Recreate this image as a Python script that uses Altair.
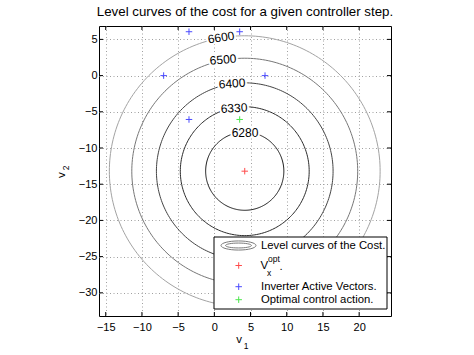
import altair as alt
import numpy as np
import pandas as pd

# ---------------- data ----------------
x_ticks = [-15, -10, -5, 0, 5, 10, 15, 20]
y_ticks = [-30, -25, -20, -15, -10, -5, 0, 5]
x_domain = [-15.93, 24.4]
y_domain = [-33.2, 6.85]

levels = [6280, 6330, 6400, 6500, 6600]
radii = [5.4, 8.9, 12.2, 15.6, 18.7]
level_colors = ["#1a1a1a", "#2a2a2a", "#444444", "#777777", "#a3a3a3"]
center_x = 4.2
center_y = -13.2
label_x = [4.24, 2.72, 2.44, 1.2, 0.93]
label_y = [-7.95, -4.5, -1.1, 2.2, 5.25]
label_angle = [0, 357, 356, 355, 351]

vec_x = [-3.5, 3.5, -7.0, 7.0, -3.5]
vec_y = [6.06, 6.06, 0.0, 0.0, -6.06]
opt_x = [3.5]
opt_y = [-6.06]
vopt_x = [4.2]
vopt_y = [-13.2]

title_text = "Level curves of the cost for a given controller step."
legend_texts = ["Level curves of the Cost.", "Inverter Active Vectors.", "Optimal control action."]

W, H = 292, 290
FONT = "Liberation Sans"

# ---------------- tables ----------------
theta = np.linspace(0, 2 * np.pi, 241)
rows = []
for lv, r in zip(levels, radii):
    for i, t in enumerate(theta):
        rows.append({"level": lv, "i": i,
                     "x": center_x + r * np.cos(t),
                     "y": center_y + r * np.sin(t)})
circles = pd.DataFrame(rows)

labels = pd.DataFrame({"x": label_x, "y": label_y,
                       "text": [str(v) for v in levels], "angle": label_angle})
vectors = pd.DataFrame({"x": vec_x, "y": vec_y})
optimal = pd.DataFrame({"x": opt_x, "y": opt_y})
vopt = pd.DataFrame({"x": vopt_x, "y": vopt_y})
xt = pd.DataFrame({"x": x_ticks})
yt = pd.DataFrame({"y": y_ticks})
one = pd.DataFrame({"a": [0]})

xs = alt.Scale(domain=x_domain, nice=False, zero=False)
ys = alt.Scale(domain=y_domain, nice=False, zero=False)
x_axis = alt.Axis(values=x_ticks, title=None, ticks=False, domain=False, grid=True,
                  labelPadding=5, labelFontSize=11, labelFont=FONT, labelColor="black",
                  gridColor="#a0a0a0", gridDash=[1, 2.5], gridWidth=1)
y_axis = alt.Axis(values=y_ticks, title=None, ticks=False, domain=False, grid=True,
                  labelPadding=2, labelFontSize=11, labelFont=FONT, labelColor="black",
                  gridColor="#a0a0a0", gridDash=[1, 2.5], gridWidth=1)


def X(field="x"):
    return alt.X(f"{field}:Q", scale=xs, axis=x_axis)


def Y(field="y"):
    return alt.Y(f"{field}:Q", scale=ys, axis=y_axis)


plus = "M-1,0L1,0M0,-1L0,1"
ellipse = ("M-1,0A1,0.26,0,1,0,1,0A1,0.26,0,1,0,-1,0Z"
           "M-0.74,0A0.74,0.14,0,1,0,0.74,0A0.74,0.14,0,1,0,-0.74,0Z")

contours = alt.Chart(circles).mark_line(strokeWidth=1, clip=True).encode(
    x=X(), y=Y(), order="i:Q",
    detail="level:N",
    color=alt.Color("level:N", scale=alt.Scale(domain=levels, range=level_colors), legend=None),
)

halo = alt.Chart(labels).mark_text(font=FONT, fontSize=12, stroke="white", strokeWidth=4,
                                   baseline="middle", align="center").encode(
    x=X(), y=Y(), text="text:N", angle=alt.Angle("angle:Q", scale=None))
lab = alt.Chart(labels).mark_text(font=FONT, fontSize=12, color="black",
                                  baseline="middle", align="center").encode(
    x=X(), y=Y(), text="text:N", angle=alt.Angle("angle:Q", scale=None))

vec_pts = alt.Chart(vectors).mark_point(shape=plus, size=42, color="#0000ff",
                                        strokeWidth=1, filled=False).encode(x=X(), y=Y())
opt_pts = alt.Chart(optimal).mark_point(shape=plus, size=42, color="#00dd00",
                                        strokeWidth=1, filled=False).encode(x=X(), y=Y())
vopt_pts = alt.Chart(vopt).mark_point(shape=plus, size=42, color="#ff0000",
                                      strokeWidth=1, filled=False).encode(x=X(), y=Y())

# inward ticks on all four sides
tick_top = alt.Chart(xt).mark_rule(color="black", strokeWidth=1).encode(
    x=X(), y=alt.value(0), y2=alt.value(4))
tick_bot = alt.Chart(xt).mark_rule(color="black", strokeWidth=1).encode(
    x=X(), y=alt.value(H), y2=alt.value(H - 4))
tick_left = alt.Chart(yt).mark_rule(color="black", strokeWidth=1).encode(
    y=Y(), x=alt.value(0), x2=alt.value(4))
tick_right = alt.Chart(yt).mark_rule(color="black", strokeWidth=1).encode(
    y=Y(), x=alt.value(W), x2=alt.value(W - 4))

# legend box
leg_box = alt.Chart(one).mark_rect(fill="white", stroke="black", strokeWidth=1).encode(
    x=alt.value(115), x2=alt.value(288), y=alt.value(211), y2=alt.value(283))
leg_ell = alt.Chart(one).mark_point(shape=ellipse, size=1225, color="#444444",
                                    strokeWidth=1, filled=False).encode(
    x=alt.value(139.5), y=alt.value(219.5))
leg_red = alt.Chart(one).mark_point(shape=plus, size=42, color="#ff0000",
                                    strokeWidth=1, filled=False).encode(
    x=alt.value(139.7), y=alt.value(239.5))
leg_blue = alt.Chart(one).mark_point(shape=plus, size=42, color="#0000ff",
                                     strokeWidth=1, filled=False).encode(
    x=alt.value(139.7), y=alt.value(260.7))
leg_green = alt.Chart(one).mark_point(shape=plus, size=42, color="#00dd00",
                                      strokeWidth=1, filled=False).encode(
    x=alt.value(139.7), y=alt.value(273.7))


def txt(s, x, y, size=11.3, angle=0, align="left"):
    return alt.Chart(one).mark_text(text=s, font=FONT, fontSize=size, color="black",
                                    align=align, baseline="middle", angle=angle).encode(
        x=alt.value(x), y=alt.value(y))


leg_t1 = txt(legend_texts[0], 162, 219.7)
leg_V = txt("V", 161.5, 240, size=11.5)
leg_opt = txt("opt", 169, 232.5, size=8.5)
leg_x = txt("x", 168, 246.5, size=8.5)
leg_dot = txt(".", 180.5, 240.5)
leg_t3 = txt(legend_texts[1], 162, 260.7)
leg_t4 = txt(legend_texts[2], 162, 273.7)

xt_v = txt("v", 140, 314, size=11.5, align="center")
xt_1 = txt("1", 147, 320, size=8.5, align="center")
yt_v = txt("v", -37, 149, size=11.5, angle=270, align="center")
yt_2 = txt("2", -33.5, 142, size=8.5, angle=270, align="center")

chart = alt.layer(
    contours, halo, lab, vec_pts, opt_pts, vopt_pts,
    tick_top, tick_bot, tick_left, tick_right,
    leg_box, leg_ell, leg_red, leg_blue, leg_green,
    leg_t1, leg_V, leg_opt, leg_x, leg_dot, leg_t3, leg_t4,
    xt_v, xt_1, yt_v, yt_2,
).properties(
    width=W, height=H,
    title=alt.TitleParams(title_text, font=FONT, fontSize=13.3, fontWeight="normal",
                          color="black", anchor="middle", offset=7),
    autosize=alt.AutoSizeParams(type="none"),
    padding={"left": 99, "top": 26, "right": 83, "bottom": 39},
    background="white",
).configure_view(stroke="black", strokeWidth=1)

chart.save("out.html", embed_options={"renderer": "svg", "actions": False})
